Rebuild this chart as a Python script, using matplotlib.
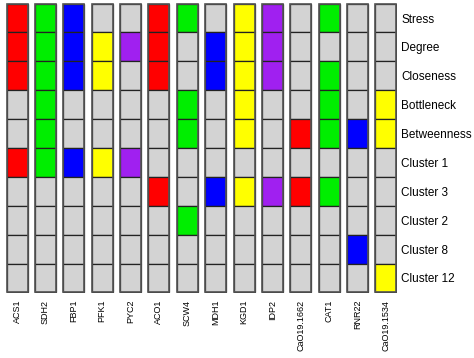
import matplotlib
matplotlib.use("Agg")
import matplotlib.pyplot as plt
from matplotlib.patches import Rectangle

plt.rcParams['font.family'] = ['Liberation Sans', 'DejaVu Sans']

# --- DATA ---
genes = ['ACS1', 'SDH2', 'FBP1', 'PFK1', 'PYC2', 'ACO1', 'SCW4', 'MDH1',
         'KGD1', 'IDP2', 'CaO19.1662', 'CAT1', 'RNR22', 'CaO19.1534']
gene_colors = ['#FF0000', '#00EE00', '#0000FF', '#FFFF00', '#A020F0',
               '#FF0000', '#00EE00', '#0000FF', '#FFFF00', '#A020F0',
               '#FF0000', '#00EE00', '#0000FF', '#FFFF00']
rows = ['Stress', 'Degree', 'Closeness', 'Bottleneck', 'Betweenness',
        'Cluster 1', 'Cluster 3', 'Cluster 2', 'Cluster 8', 'Cluster 12']
# 1 = gene present in that ranking / cluster
member = [
    [1, 1, 1, 0, 0, 1, 1, 0, 1, 1, 0, 1, 0, 0],  # Stress
    [1, 1, 1, 1, 1, 1, 0, 1, 1, 1, 0, 0, 0, 0],  # Degree
    [1, 1, 1, 1, 0, 1, 0, 1, 1, 1, 0, 1, 0, 0],  # Closeness
    [0, 1, 0, 0, 0, 0, 1, 0, 1, 0, 0, 1, 0, 1],  # Bottleneck
    [0, 1, 0, 0, 0, 0, 1, 0, 1, 0, 1, 1, 1, 1],  # Betweenness
    [1, 1, 1, 1, 1, 0, 0, 0, 0, 0, 0, 0, 0, 0],  # Cluster 1
    [0, 0, 0, 0, 0, 1, 0, 1, 1, 1, 1, 1, 0, 0],  # Cluster 3
    [0, 0, 0, 0, 0, 0, 1, 0, 0, 0, 0, 0, 0, 0],  # Cluster 2
    [0, 0, 0, 0, 0, 0, 0, 0, 0, 0, 0, 0, 1, 0],  # Cluster 8
    [0, 0, 0, 0, 0, 0, 0, 0, 0, 0, 0, 0, 0, 1],  # Cluster 12
]
EMPTY = '#D3D3D3'
W = 0.74  # column width in data units

fig = plt.figure(figsize=(4.74, 3.58), dpi=100)
ax = fig.add_axes([0.0127, 0.1816, 0.8249, 0.810])

n_rows = len(rows)
for r in range(n_rows):
    y = n_rows - 1 - r
    for c in range(len(genes)):
        col = gene_colors[c] if member[r][c] else EMPTY
        ax.add_patch(Rectangle((c, y), W, 1, facecolor=col,
                               edgecolor='#222222', linewidth=0.9))

# outer frame of each column
for c in range(len(genes)):
    ax.add_patch(Rectangle((c, 0), W, n_rows, facecolor='none',
                           edgecolor='#555555', linewidth=1.2))

ax.set_xlim(-0.02, len(genes) - 1 + W + 0.02)
ax.set_ylim(-0.02, n_rows + 0.02)

ax.set_xticks([c + W / 2 for c in range(len(genes))])
ax.set_xticklabels(genes, rotation=90, fontsize=6.5)
ax.set_yticks([n_rows - 1 - r + 0.5 for r in range(n_rows)])
ax.set_yticklabels(rows, fontsize=8.5)
ax.yaxis.tick_right()
ax.tick_params(axis='both', length=0)
ax.tick_params(axis='x', pad=5)
ax.tick_params(axis='y', pad=3)
for s in ax.spines.values():
    s.set_visible(False)

fig.savefig('out.png', dpi=100)
